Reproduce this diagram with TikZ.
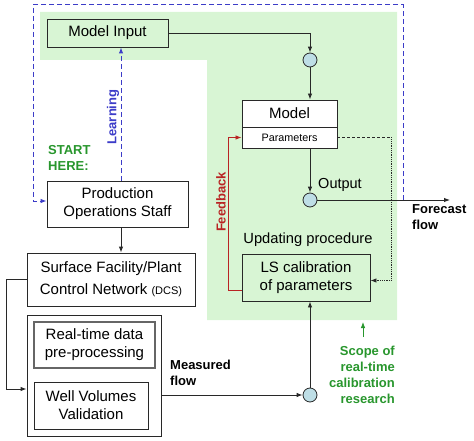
\documentclass[tikz,border=0pt]{standalone}
\usepackage{fontspec}
\setmainfont{Liberation Sans}
\usetikzlibrary{arrows.meta}
\definecolor{regiongreen}{RGB}{216,245,212}
\definecolor{dotblue}{RGB}{190,222,230}
\definecolor{learnblue}{RGB}{60,60,200}
\definecolor{feedred}{RGB}{185,35,35}
\definecolor{scopegreen}{RGB}{40,150,45}
\definecolor{boxline}{RGB}{40,40,40}
\tikzset{
  box/.style={draw=boxline, line width=0.9pt, fill=white, align=center, inner sep=0pt,
    font=\fontsize{15}{18}\selectfont},
  greenbox/.style={box, fill=regiongreen},
  sumdot/.style={circle, draw=boxline, line width=0.8pt, fill=dotblue, minimum size=14pt, inner sep=0pt},
  flow/.style={draw=boxline, line width=0.9pt, ->},
  learnline/.style={draw=learnblue, line width=1pt, dash pattern=on 5pt off 3pt, ->},
  lbl/.style={font=\bfseries\fontsize{13}{16}\selectfont, inner sep=0pt},
}
\begin{document}
\begin{tikzpicture}[x=1pt, y=-1pt, >={Latex[length=6pt,width=4.5pt]}]
  \useasboundingbox (0,0) rectangle (474,441);
  % scope of the real-time calibration
  \fill[regiongreen] (40,12) -- (397,12) -- (397,320) -- (207,320) -- (207,60) -- (40,60) -- cycle;

  % boxes
  \node[greenbox, minimum width=121pt, minimum height=28pt] (minput) at (107.5,33) {Model Input};
  \node[box, minimum width=95pt, minimum height=27pt] (model) at (289.5,113.5) {Model};
  \node[box, minimum width=95pt, minimum height=21pt, font=\fontsize{10.8}{13}\selectfont] (params) at (289.5,137.5) {Parameters};
  \node[greenbox, minimum width=128pt, minimum height=47pt] (ls) at (306,277.5) {LS calibration\\of parameters};
  \node[box, minimum width=141pt, minimum height=46pt] (prod) at (117.5,204) {Production\\Operations Staff};
  \node[box, minimum width=168pt, minimum height=53pt] (surf) at (111,279.5)
    {Surface Facility/Plant\\[4pt]Control Network {\fontsize{11}{13}\selectfont(DCS)}};
  \node[box, minimum width=134pt, minimum height=121pt] (outer) at (94,375.5) {};
  \node[box, draw=gray!80!black, line width=1.1pt, minimum width=121pt, minimum height=46pt] (prep) at (94.5,345) {Real-time data\\pre-processing};
  \node[box, minimum width=114pt, minimum height=47pt] (wellval) at (91,405.5) {Well Volumes\\Validation};

  % summing points
  \node[sumdot] (cin) at (310,60) {};
  \node[sumdot] (cout) at (310,200) {};
  \node[sumdot] (cmeas) at (310,395) {};
  \coordinate (fc) at (450,200);
  \coordinate (lx) at (121,0);
  \coordinate (dp) at (391,0);
  \coordinate (sc) at (363,322);
  \coordinate (lrn) at (403,200);

  % main flow
  \draw[flow] (minput.east) -| (cin.north);
  \draw[flow] (cin) -- (cin |- model.north);
  \draw[flow] (cin |- params.south) -- (cout);
  \draw[flow] (cout) -- (fc);
  \draw[flow] (prod.south -| lx) -- (surf.north -| lx);
  \draw[flow] (surf.west) -- ++(-20,0) |- ([yshift=-13.5pt]outer.west);
  \draw[flow] (cmeas -| outer.east) -- (cmeas);
  \draw[flow] (cmeas) -- (cmeas |- ls.south);
  \draw[draw=boxline, line width=0.7pt, densely dashed] (params.east) -- (params.east -| dp);
  \draw[draw=boxline, line width=0.8pt, densely dotted, ->] (params.east -| dp) |- ([yshift=-3pt]ls.east);

  % feedback and learning
  \draw[feedred, line width=0.8pt, ->] ([yshift=-12.5pt]ls.west) -- ++(-13,0) |- (params.west);
  \node[lbl, text=feedred, rotate=90] (fb) at (221,202) {Feedback};
  \draw[learnline] (prod.north -| lx) -- (minput.south -| lx);
  \node[lbl, text=learnblue, rotate=90] (learn) at (113,117) {Learning};
  \draw[learnline] (lrn) -- (403,5) -- (33,5) -- (33,201) -- ([yshift=3pt]prod.west);

  % labels
  \node[inner sep=0pt, font=\fontsize{14.5}{17}\selectfont] (outlbl) at (340,185) {Output};
  \node[lbl, anchor=north west, align=left] (fclbl) at (412,204) {Forecast\\flow};
  \node[inner sep=0pt, font=\fontsize{14.7}{17}\selectfont] (upd) at (308,240) {Updating procedure};
  \node[lbl, anchor=north west, align=left] (measlbl) at (170,360) {Measured\\flow};
  \node[lbl, text=scopegreen, anchor=north west, align=left] (start) at (48,145) {START\\HERE:};
  \node[lbl, text=scopegreen, anchor=north east, align=right] (scope) at (395,346) {Scope of\\real-time\\calibration\\research};
  \draw[scopegreen, line width=0.8pt, ->] (scope.north -| sc) ++(0,-9) -- (sc);
\end{tikzpicture}
\end{document}
